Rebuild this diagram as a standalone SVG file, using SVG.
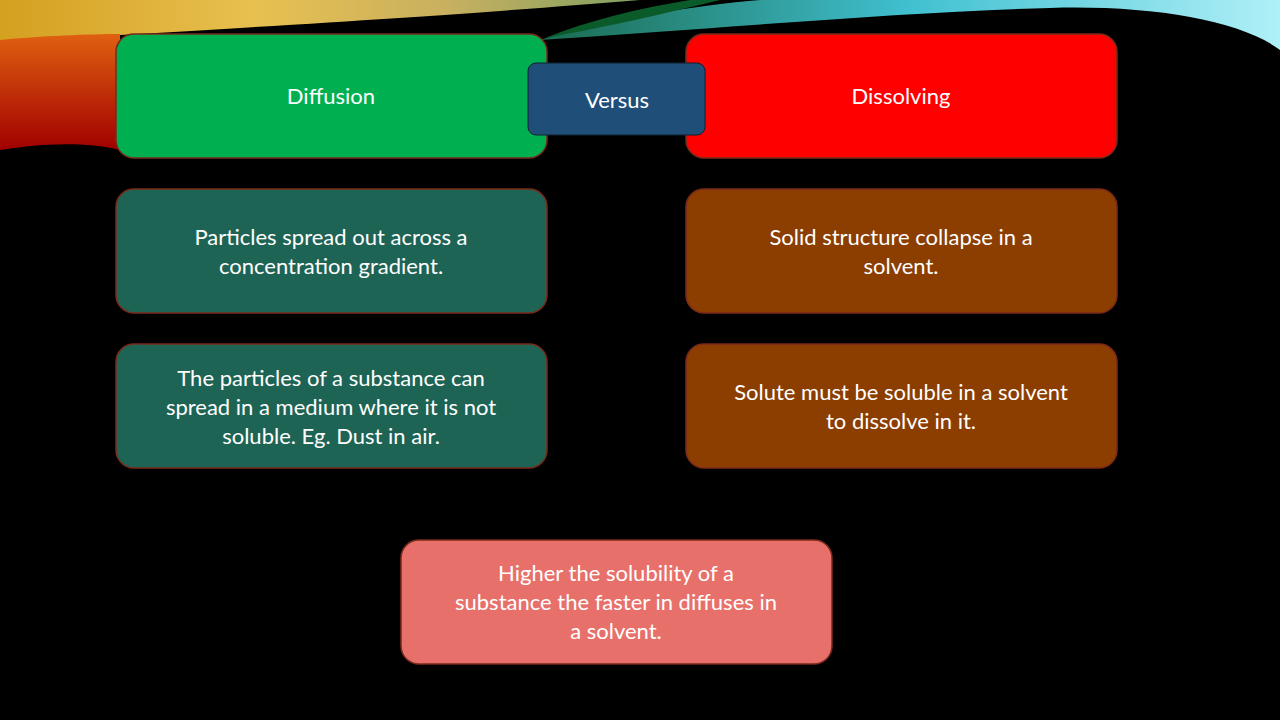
<svg xmlns="http://www.w3.org/2000/svg" width="1280" height="720" viewBox="0 0 1280 720">
<defs>
<linearGradient id="warm" x1="0" y1="0" x2="1" y2="0">
<stop offset="0" stop-color="#d4a020"/><stop offset="0.4" stop-color="#e8c050"/><stop offset="0.7" stop-color="#c8b060"/><stop offset="1" stop-color="#80a060"/>
</linearGradient>
<linearGradient id="red" x1="0" y1="0" x2="0" y2="1">
<stop offset="0" stop-color="#e06010"/><stop offset="1" stop-color="#a00000"/>
</linearGradient>
<linearGradient id="cyan" x1="0" y1="0" x2="1" y2="0">
<stop offset="0" stop-color="#1a6a50"/><stop offset="0.5" stop-color="#40c0d0"/><stop offset="1" stop-color="#b0f0f8"/>
</linearGradient>
<style>
.t{font-family:"Lato","DejaVu Sans",sans-serif;font-size:22px;fill:#ffffff;text-anchor:middle}
.b{stroke:#7a2a1a;stroke-width:1.5}
</style>
</defs>
<rect width="1280" height="720" fill="#000"/>
<g id="decor">
<path d="M0 0 H640 C520 10 380 20 120 35 C60 40 20 45 0 50 Z" fill="url(#warm)"/>
<path d="M0 40 C40 36 90 34 120 34 V150 C80 140 30 145 0 150 Z" fill="url(#red)"/>
<path d="M540 40 C600 20 700 5 760 0 H1280 V50 C1240 20 1150 5 1050 8 C900 12 700 30 540 40 Z" fill="url(#cyan)"/>
<path d="M545 38 C590 20 640 8 690 0 L720 0 C660 15 600 28 545 38 Z" fill="#0a5a2a"/>
</g>
<g id="diffusion"><rect class="b" x="116" y="34" width="431" height="124" rx="18" fill="#00b050"/><text class="t" x="331" y="104">Diffusion</text></g>
<g id="dissolving"><rect class="b" x="686" y="34" width="431" height="124" rx="18" fill="#ff0000"/><text class="t" x="901" y="104">Dissolving</text></g>
<g id="versus"><rect x="528" y="63" width="177" height="72" rx="8" fill="#1f4e79" stroke="#123" stroke-width="1"/><text class="t" x="617" y="108">Versus</text></g>
<g id="d1"><rect class="b" x="116" y="189" width="431" height="124" rx="18" fill="#1e6455"/><text class="t" x="331" y="245">Particles spread out across a</text><text class="t" x="331" y="274">concentration gradient.</text></g>
<g id="d2"><rect class="b" x="116" y="344" width="431" height="124" rx="18" fill="#1e6455"/><text class="t" x="331" y="386">The particles of a substance can</text><text class="t" x="331" y="415">spread in a medium where it is not</text><text class="t" x="331" y="444">soluble. Eg. Dust in air.</text></g>
<g id="s1"><rect class="b" x="686" y="189" width="431" height="124" rx="18" fill="#8b3e00"/><text class="t" x="901" y="245">Solid structure collapse in a</text><text class="t" x="901" y="274">solvent.</text></g>
<g id="s2"><rect class="b" x="686" y="344" width="431" height="124" rx="18" fill="#8b3e00"/><text class="t" x="901" y="400">Solute must be soluble in a solvent</text><text class="t" x="901" y="429">to dissolve in it.</text></g>
<g id="bottom"><rect class="b" x="401" y="540" width="431" height="124" rx="18" fill="#e8706a"/><text class="t" x="616" y="581">Higher the solubility of a</text><text class="t" x="616" y="610">substance the faster in diffuses in</text><text class="t" x="616" y="639">a solvent.</text></g>
<g id="connectors"/>
</svg>
